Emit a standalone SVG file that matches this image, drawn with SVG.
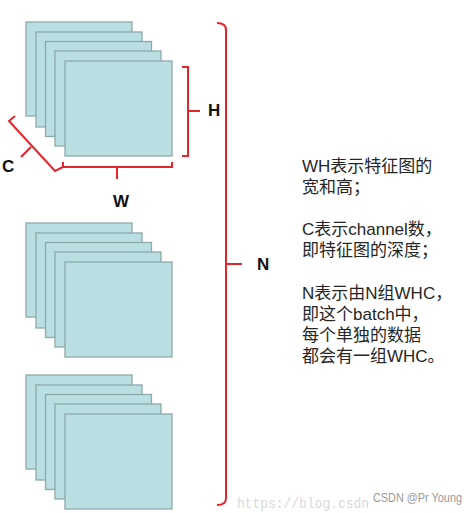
<svg xmlns="http://www.w3.org/2000/svg" width="474" height="513" viewBox="0 0 474 513">
<style>
.fm{fill:#b9dfe2;stroke:#8ea9aa;stroke-width:1.3}
.br{fill:none;stroke:#e3262c;stroke-width:2;stroke-linejoin:miter}
.lbl{font-family:"Liberation Sans",Arial,sans-serif;font-weight:bold;font-size:17px;fill:#111}
.txt{font-family:"Liberation Sans","Noto Sans CJK SC",sans-serif;font-size:17px;fill:#262626}
</style>
<defs>
<g id="stack">
<rect class="fm" x="26" y="0" width="106" height="94"/>
<rect class="fm" x="36" y="10" width="106" height="95"/>
<rect class="fm" x="45.5" y="19.5" width="106" height="95"/>
<rect class="fm" x="55" y="29" width="106" height="95"/>
<rect class="fm" x="65" y="39" width="107" height="95"/>
</g>
</defs>
<rect width="474" height="513" fill="#ffffff"/>
<g id="stack1"><use href="#stack" y="22"/></g>
<g id="stack2"><use href="#stack" y="223"/></g>
<g id="stack3"><use href="#stack" y="375"/></g>
<g id="connectors">
<path class="br" d="M182,67 H188 V156 H182 M188,111 H200"/>
<path class="br" d="M63,162 V167 H172 V162 M117,167 V179"/>
<path class="br" d="M15,116 L9,121 L55,171 L63,167 M31,147 L21,157"/>
<path class="br" d="M217,23 Q226,23 226,30 V498 Q226,505 217,505 M226,264 H242"/>
</g>
<g id="labels">
<text class="lbl" x="208" y="116">H</text>
<text class="lbl" x="121" y="207" text-anchor="middle">W</text>
<text class="lbl" x="2" y="172">C</text>
<text class="lbl" x="257" y="270">N</text>
</g>
<g id="notes" class="txt">
<text x="302" y="172">WH表示特征图的</text>
<text x="302" y="193">宽和高；</text>
<text x="302" y="235">C表示channel数，</text>
<text x="302" y="256">即特征图的深度；</text>
<text x="302" y="299">N表示由N组WHC，</text>
<text x="302" y="320">即这个batch中，</text>
<text x="302" y="341">每个单独的数据</text>
<text x="302" y="362">都会有一组WHC。</text>
</g>
<g id="watermark">
<text x="237" y="508" font-family="Liberation Mono,monospace" font-size="14" fill="#dadada" textLength="132" lengthAdjust="spacingAndGlyphs">https://blog.csdn</text>
<text x="373" y="502" font-family="Liberation Sans,Arial,sans-serif" font-size="12" fill="#9a9a9a" textLength="89" lengthAdjust="spacingAndGlyphs">CSDN @Pr Young</text>
</g>
</svg>
